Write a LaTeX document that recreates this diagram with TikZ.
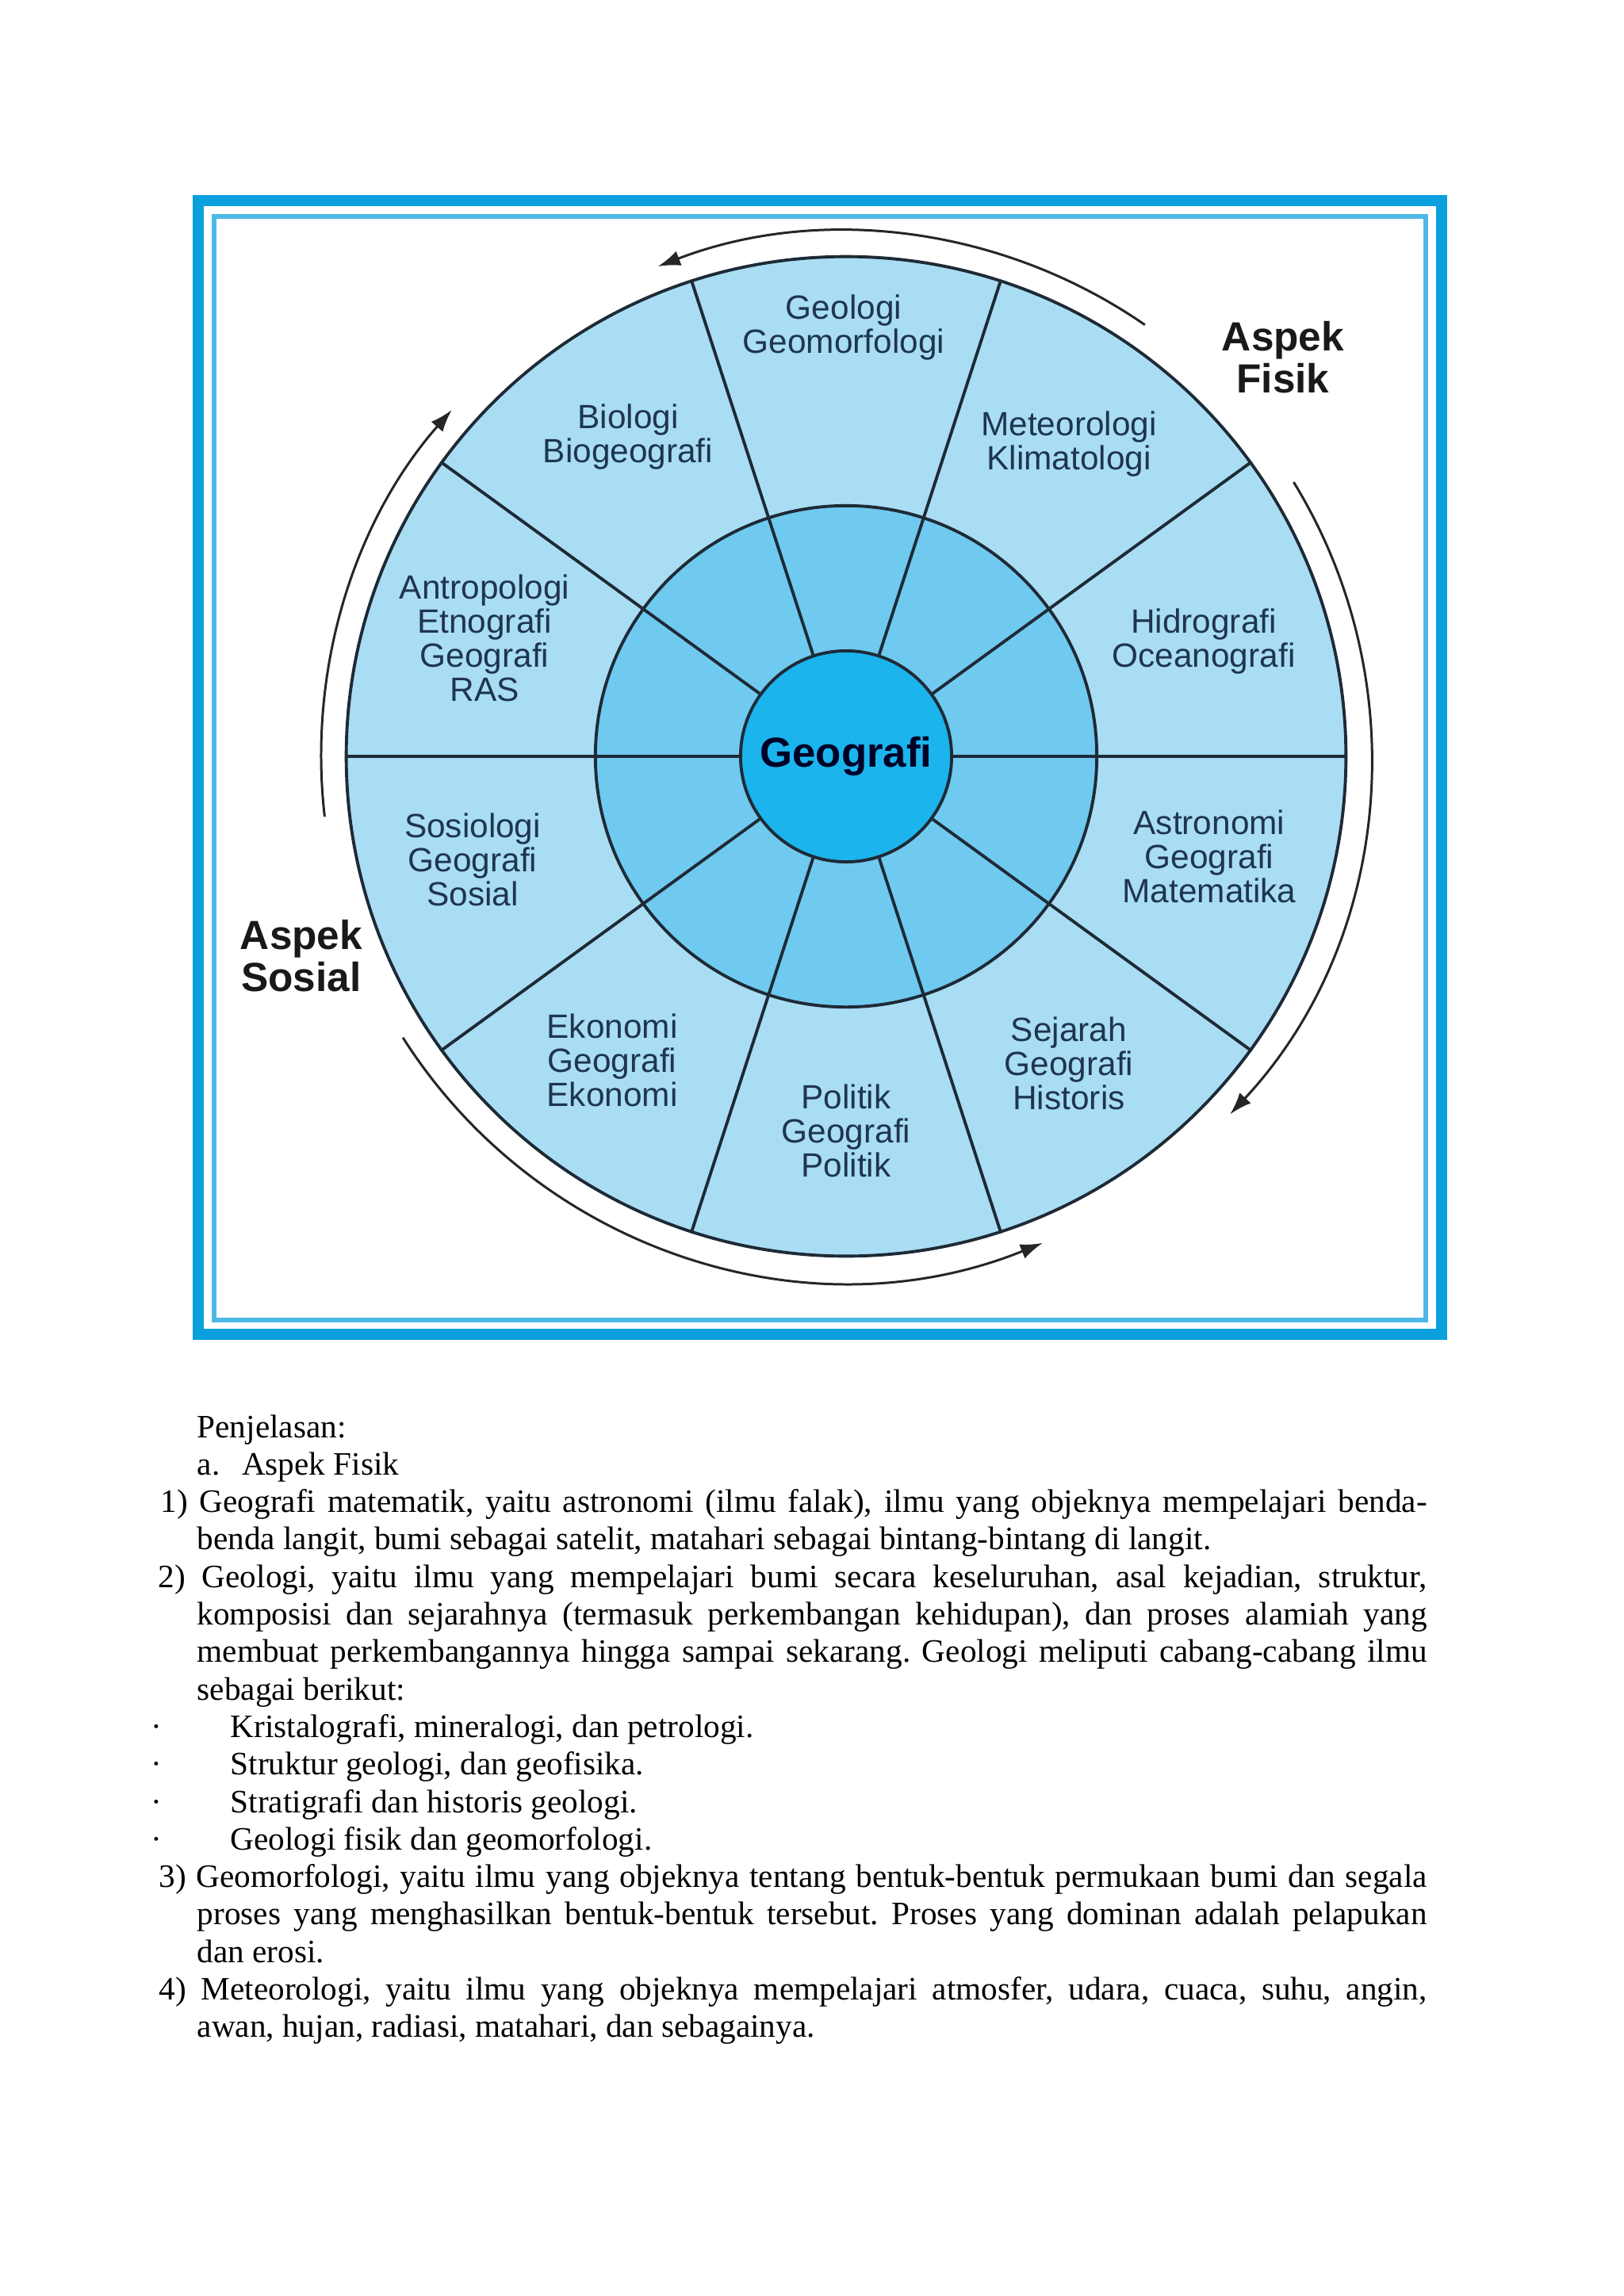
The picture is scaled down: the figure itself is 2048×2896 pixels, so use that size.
\documentclass[tikz,border=0pt]{standalone}
\usepackage{fontspec}
\setmainfont{Liberation Serif}
\newfontfamily\labfont{Liberation Sans}
\usetikzlibrary{arrows.meta,calc}
\definecolor{frameA}{HTML}{0A9FDD}
\definecolor{frameB}{HTML}{4DB8E6}
\definecolor{ringA}{HTML}{A9DDF4}
\definecolor{ringB}{HTML}{70C9EF}
\definecolor{ringC}{HTML}{1BB4EC}
\definecolor{linec}{HTML}{1E2A36}
\definecolor{labc}{HTML}{1E3550}
\frenchspacing
\begin{document}
\frenchspacing
\begin{tikzpicture}[x=0.01cm,y=-0.01cm,
  ringline/.style={draw=linec,line width=1.1pt},
  spoke/.style={draw=linec,line width=1.1pt},
  sector/.style={font=\labfont\fontsize{12.05}{12.2}\selectfont, text=labc, align=center, inner sep=0pt},
  aspek/.style={font=\labfont\bfseries\fontsize{14.6}{15}\selectfont, text=black!90, align=center, inner sep=0pt},
  flow/.style={draw=black!85, line width=0.85pt, -{Latex[length=8pt,width=5.5pt]}},
  body/.style={font=\fontsize{11.73}{13.5}\selectfont\frenchspacing, anchor=base west, inner sep=0pt},
]
\useasboundingbox (0,0) rectangle (2048,2896);
\fill[white] (0,0) rectangle (2048,2896);
% frame
\draw[frameA, line width=4pt] (250,253) rectangle (1818,1683);
\draw[frameB, line width=1.7pt] (270,273) rectangle (1798,1665);
% wheel
\coordinate (C) at (1067,954);
\node[circle, ringline, fill=ringA, minimum size=12.6cm, inner sep=0pt] (outer) at (C) {};
\node[circle, ringline, fill=ringB, minimum size=6.32cm, inner sep=0pt] (mid) at (C) {};
\node[circle, ringline, fill=ringC, minimum size=2.66cm, inner sep=0pt,
      font=\labfont\bfseries\fontsize{15}{16}\selectfont, text=black!85!blue] (core) at (C) {Geografi};
\foreach \a in {0,36,...,324} \draw[spoke] (core.\a) -- (outer.\a);
% arrows around
\draw[flow] ($(C)+(-55.3:662)$) arc[start angle=-55.3, end angle=-111, radius=662];
\draw[flow] ($(C)+(-31.5:662)$) arc[start angle=-31.5, end angle=43, radius=662];
\draw[flow] ($(C)+(147.6:662)$) arc[start angle=147.6, end angle=68, radius=662];
\draw[flow] ($(C)+(-186.6:662)$) arc[start angle=-186.6, end angle=-138.7, radius=662];
% sector labels
\node[sector] (s1) at (1064,413) {Geologi\\Geomorfologi};
\node[sector] (s2) at (1348,560) {Meteorologi\\Klimatologi};
\node[sector] (s3) at (1518,809) {Hidrografi\\Oceanografi};
\node[sector] (s4) at (1525,1080) {Astronomi\\Geografi\\Matematika};
\node[sector] (s5) at (1348,1341) {Sejarah\\Geografi\\Historis};
\node[sector] (s6) at (1067,1426) {Politik\\Geografi\\Politik};
\node[sector] (s7) at (772,1337) {Ekonomi\\Geografi\\Ekonomi};
\node[sector] (s8) at (596,1084) {Sosiologi\\Geografi\\Sosial};
\node[sector] (s9) at (611,805) {Antropologi\\Etnografi\\Geografi\\RAS};
\node[sector] (s10) at (792,551) {Biologi\\Biogeografi};
\node[aspek] (af) at (1618,451) {Aspek\\Fisik};
\node[aspek] (as) at (380,1206) {Aspek\\Sosial};
% body text
\node[body] (t1) at (248,1813) {Penjelasan:};
\node[body] (t2) at (248,1860.3) {a.\hspace{7.9pt}Aspek Fisik};
\node[body] (t3) at (202,1907.6) {\makebox[454.1pt][s]{1) Geografi matematik, yaitu astronomi (ilmu falak), ilmu yang objeknya mempelajari benda-}};
\node[body] (t4) at (248,1954.9) {benda langit, bumi sebagai satelit, matahari sebagai bintang-bintang di langit.};
\node[body] (t5) at (199,2002.2) {\makebox[455pt][s]{2) Geologi, yaitu ilmu yang mempelajari bumi secara keseluruhan, asal kejadian, struktur,}};
\node[body] (t6) at (248,2049.5) {\makebox[441pt][s]{komposisi dan sejarahnya (termasuk perkembangan kehidupan), dan proses alamiah yang}};
\node[body] (t7) at (248,2096.8) {\makebox[441pt][s]{membuat perkembangannya hingga sampai sekarang. Geologi meliputi cabang-cabang ilmu}};
\node[body] (t8) at (248,2144.1) {sebagai berikut:};
\node[body] (b1) at (190,2191.4) {·};
\node[body] (t9) at (290,2191.4) {Kristalografi, mineralogi, dan petrologi.};
\node[body] (b2) at (190,2238.7) {·};
\node[body] (t10) at (290,2238.7) {Struktur geologi, dan geofisika.};
\node[body] (b3) at (190,2286) {·};
\node[body] (t11) at (290,2286) {Stratigrafi dan historis geologi.};
\node[body] (b4) at (190,2333.3) {·};
\node[body] (t12) at (290,2333.3) {Geologi fisik dan geomorfologi.};
\node[body] (t13) at (200,2380.6) {\makebox[454.7pt][s]{3) Geomorfologi, yaitu ilmu yang objeknya tentang bentuk-bentuk permukaan bumi dan segala}};
\node[body] (t14) at (248,2427.9) {\makebox[441pt][s]{proses yang menghasilkan bentuk-bentuk tersebut. Proses yang dominan adalah pelapukan}};
\node[body] (t15) at (248,2475.2) {dan erosi.};
\node[body] (t16) at (200,2522.5) {\makebox[454.7pt][s]{4) Meteorologi, yaitu ilmu yang objeknya mempelajari atmosfer, udara, cuaca, suhu, angin,}};
\node[body] (t17) at (248,2569.8) {awan, hujan, radiasi, matahari, dan sebagainya.};
\end{tikzpicture}
\end{document}
